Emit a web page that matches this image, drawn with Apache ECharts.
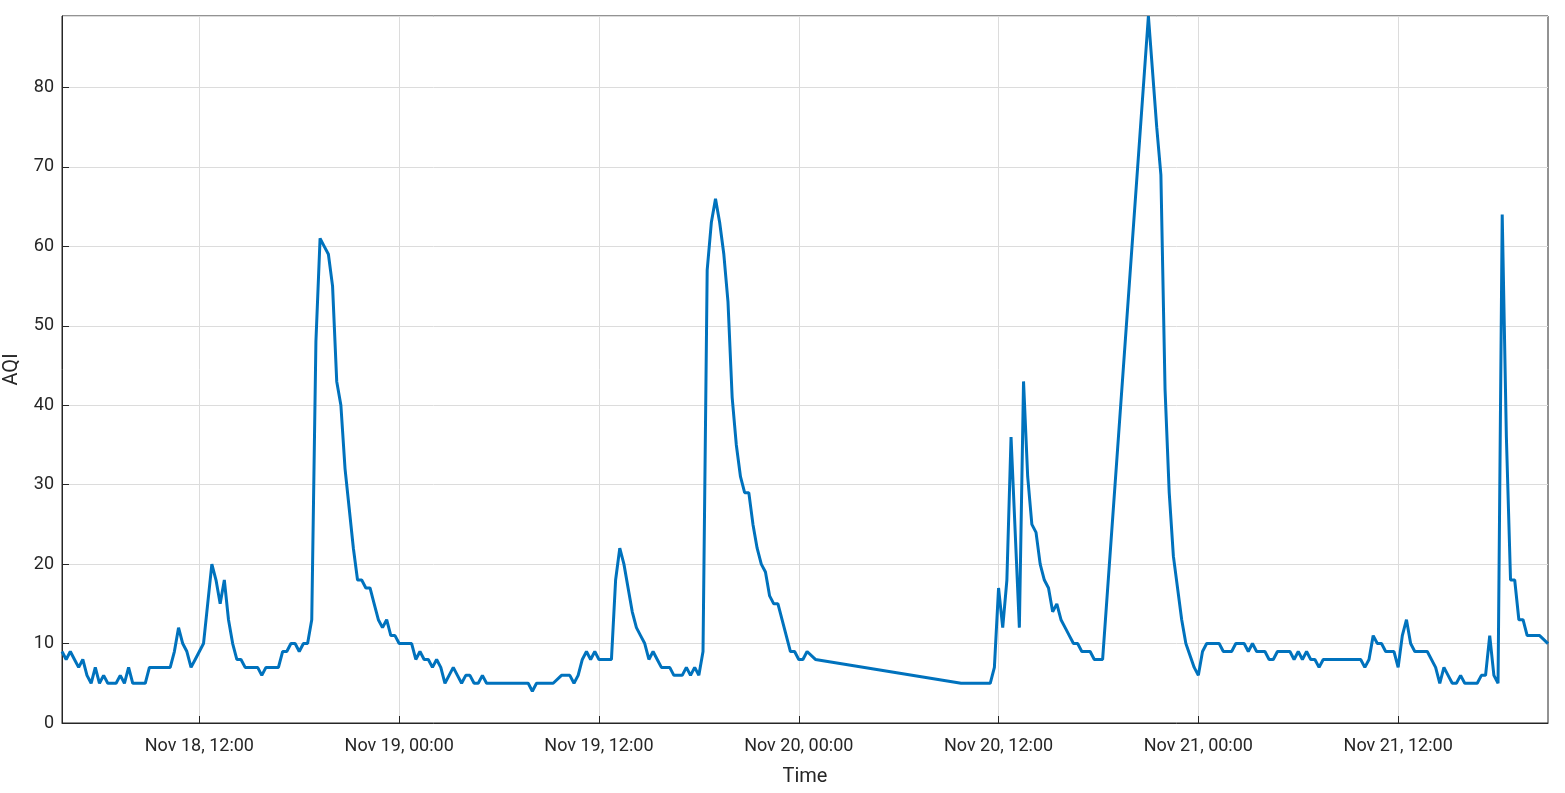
<!DOCTYPE html>
<html>
<head>
<meta charset="utf-8">
<script src="https://cdn.jsdelivr.net/npm/echarts@6/dist/echarts.min.js"></script>
<style>
  html, body { margin: 0; padding: 0; background: #fff; }
  #chart { width: 1565px; height: 793px; }
</style>
</head>
<body>
<div id="chart"></div>
<script>
// samples are every 15 minutes, counted from Nov 18 03:45
const startTime = '2023-11-18T03:45:00';
const stepMinutes = 15;
const steps = [0,1,2,3,4,5,6,7,8,9,10,11,12,13,14,15,16,17,18,19,20,21,26,27,28,29,30,31,32,33,34,35,36,37,38,39,40,41,42,43,44,45,47,48,49,52,53,54,55,56,57,58,59,60,61,62,63,64,65,66,67,68,69,70,71,72,73,74,75,76,77,78,79,80,81,84,85,86,87,88,89,90,91,92,93,94,95,96,97,98,99,100,101,102,112,113,114,118,120,122,123,124,125,126,127,128,129,132,133,134,135,136,137,138,139,140,141,142,143,144,146,147,149,150,151,152,153,154,155,156,157,158,159,160,161,162,163,164,165,166,167,168,169,170,171,172,175,176,177,178,179,181,216,223,224,225,226,227,228,230,231,232,233,234,235,236,237,238,239,240,241,242,243,244,245,247,248,250,261,262,263,264,265,266,267,269,270,272,273,274,275,278,279,281,282,284,285,286,287,289,290,291,292,295,296,297,298,299,300,301,302,303,312,313,314,315,316,317,318,320,321,322,323,324,325,328,330,331,332,333,334,335,336,337,340,341,342,343,344,345,346,347,348,349,350,351,352,355,357];
const aqi = [9,8,9,8,7,8,6,5,7,5,6,5,5,5,6,5,7,5,5,5,5,7,7,9,12,10,9,7,8,9,10,15,20,18,15,18,13,10,8,8,7,7,7,6,7,7,9,9,10,10,9,10,10,13,48,61,60,59,55,43,40,32,27,22,18,18,17,17,15,13,12,13,11,11,10,10,8,9,8,8,7,8,7,5,6,7,6,5,6,6,5,5,6,5,5,4,5,5,6,6,5,6,8,9,8,9,8,8,18,22,20,17,14,12,11,10,8,9,8,7,7,6,6,7,6,7,6,9,57,63,66,63,59,53,41,35,31,29,29,25,22,20,19,16,15,15,9,9,8,8,9,8,5,5,7,17,12,18,36,12,43,31,25,24,20,18,17,14,15,13,12,11,10,10,9,9,8,8,89,82,75,69,42,29,21,13,10,7,6,9,10,10,9,9,10,10,9,10,9,9,8,8,9,9,8,9,8,9,8,8,7,8,8,7,8,11,10,10,9,9,7,11,13,10,9,9,7,5,7,6,5,5,6,5,5,6,6,11,6,5,64,36,18,18,13,13,11,11,10];
const lastStep = 357;
const tickTimes = ['2023-11-18T12:00:00', '2023-11-19T00:00:00', '2023-11-19T12:00:00', '2023-11-20T00:00:00',
  '2023-11-20T12:00:00', '2023-11-21T00:00:00', '2023-11-21T12:00:00'];

const t0 = new Date(startTime).getTime();
const stepMs = stepMinutes * 60 * 1000;
const points = steps.map((k, i) => [t0 + k * stepMs, aqi[i]]);
const tickValues = tickTimes.map(s => new Date(s).getTime());

const months = ['Jan','Feb','Mar','Apr','May','Jun','Jul','Aug','Sep','Oct','Nov','Dec'];
const pad = n => String(n).padStart(2, '0');

const chart = echarts.init(document.getElementById('chart'));
chart.setOption({
  animation: false,
  grid: { left: 62, right: 17, top: 16, bottom: 70, outerBoundsMode: 'none', containLabel: false,
    show: true, borderColor: '#262626', borderWidth: 1 },
  xAxis: {
    type: 'value',
    min: t0,
    max: t0 + lastStep * stepMs,
    name: 'Time',
    nameLocation: 'middle',
    nameGap: 44,
    nameTextStyle: { fontFamily: 'Roboto', fontSize: 20, color: '#262626' },
    axisLine: { lineStyle: { color: '#262626' } },
    axisTick: { inside: true, length: 7, customValues: tickValues, lineStyle: { color: '#262626' } },
    axisLabel: {
      fontFamily: 'Roboto', fontSize: 18, color: '#262626', margin: 14,
      customValues: tickValues,
      formatter: v => {
        const d = new Date(v);
        return months[d.getMonth()] + ' ' + d.getDate() + ', ' + pad(d.getHours()) + ':' + pad(d.getMinutes());
      }
    },
    splitLine: { show: true, lineStyle: { color: '#dcdcdc' } }
  },
  yAxis: {
    type: 'value',
    min: 0,
    max: 89,
    interval: 10,
    name: 'AQI',
    nameLocation: 'middle',
    nameGap: 40,
    nameTextStyle: { fontFamily: 'Roboto', fontSize: 20, color: '#262626' },
    axisLine: { show: true, lineStyle: { color: '#262626' } },
    axisTick: { show: true, inside: true, length: 7, lineStyle: { color: '#262626' } },
    axisLabel: { fontFamily: 'Roboto', fontSize: 18, color: '#262626', showMaxLabel: false },
    splitLine: { lineStyle: { color: '#dcdcdc' } }
  },
  series: [{
    type: 'line',
    data: points,
    showSymbol: false,
    lineStyle: { color: '#0072BD', width: 3 },
    itemStyle: { color: '#0072BD' }
  }]
});
</script>
</body>
</html>
